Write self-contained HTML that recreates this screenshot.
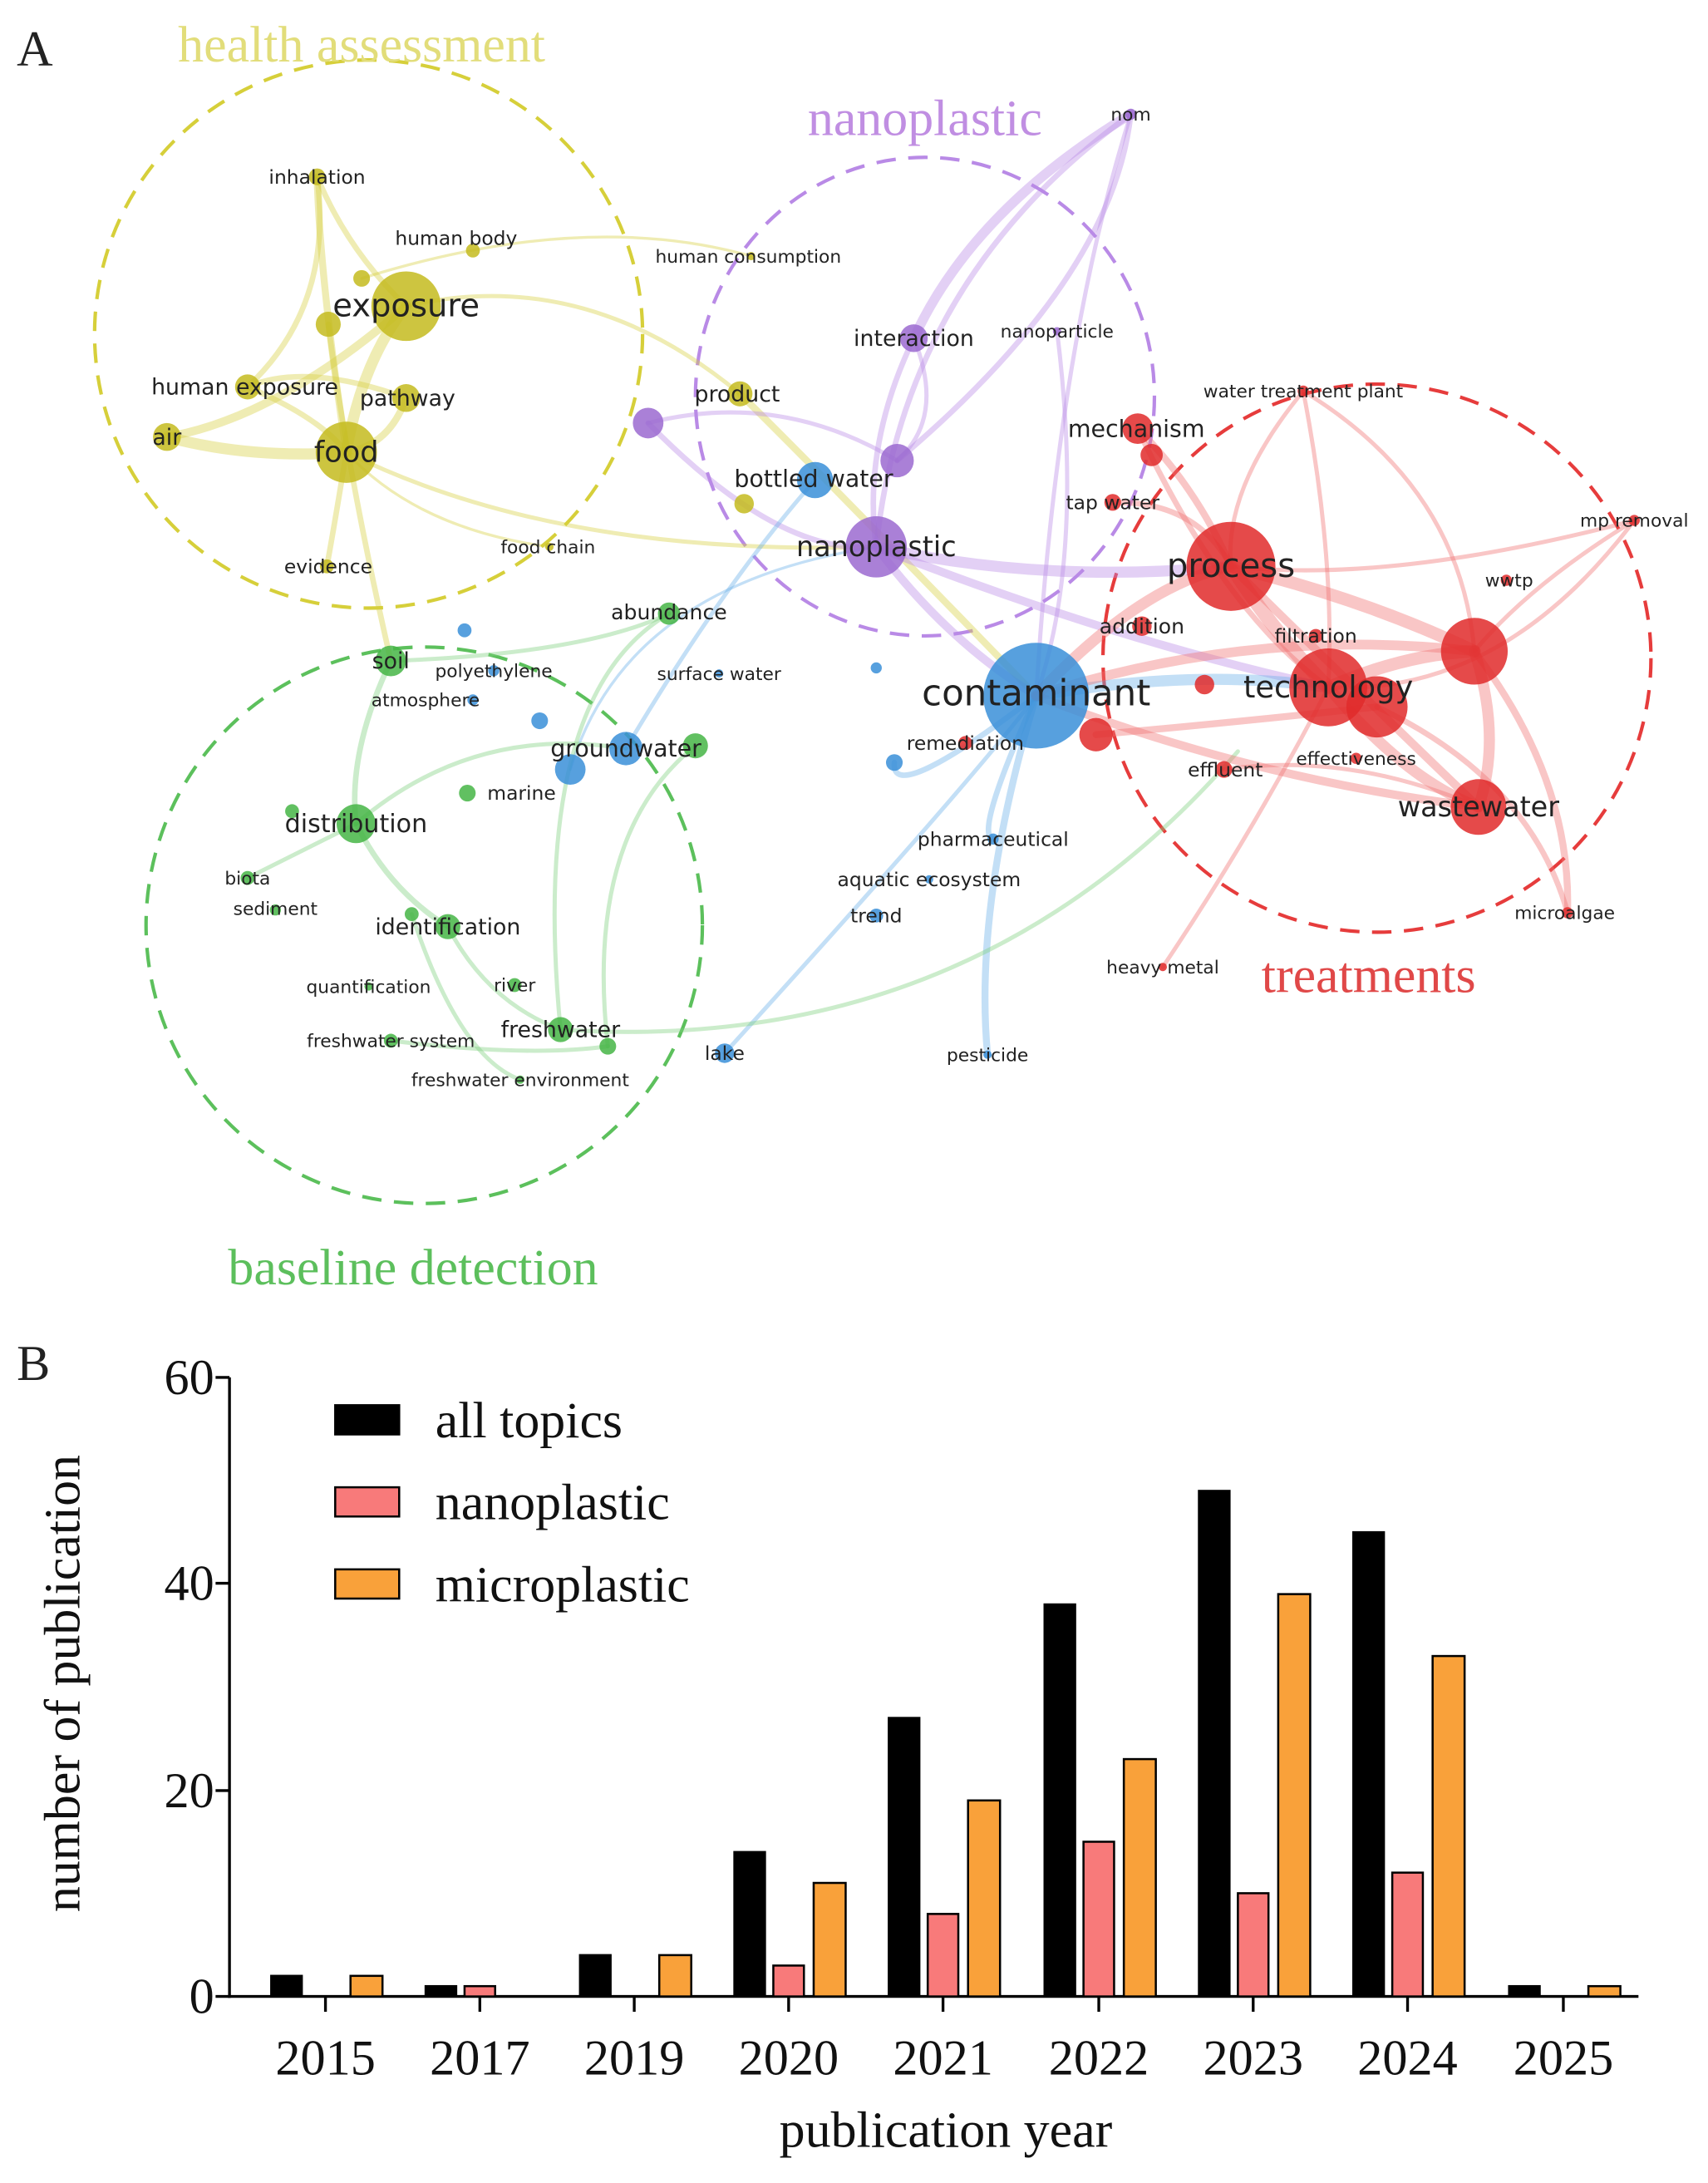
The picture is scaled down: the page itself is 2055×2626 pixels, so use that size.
<!DOCTYPE html>
<html><head><meta charset="utf-8"><style>
html,body{margin:0;padding:0;background:#fff}
svg{display:block}
.s{font-family:"DejaVu Sans","Liberation Sans",sans-serif;fill:#222;text-anchor:middle;dominant-baseline:middle}
.t{font-family:"Liberation Serif",serif}
</style></head><body>
<svg width="2055" height="2626" viewBox="0 0 1228 1569" xmlns="http://www.w3.org/2000/svg">
<rect width="1228" height="1569" fill="#fff"/>
<text x="12" y="47" class="t" font-size="36" fill="#222">A</text>
<text x="12" y="992" class="t" font-size="36" fill="#222">B</text>

<g fill="none" stroke-width="2.5" stroke-dasharray="14,9">
<circle cx="265" cy="240" r="197" stroke="#d6cf3a"/>
<ellipse cx="665" cy="285" rx="165" ry="172" stroke="#b98ae6"/>
<circle cx="990" cy="473" r="197" stroke="#e63c3c"/>
<circle cx="305" cy="665" r="200" stroke="#5cc05c"/>
</g>

<g fill="none" stroke-linecap="round" stroke-opacity="0.4">
<g stroke="#d8d040">
<path d="M228 127 Q230 200 249 325" stroke-width="5"/>
<path d="M228 127 Q240 220 178 278" stroke-width="4"/>
<path d="M228 127 Q250 180 292 220" stroke-width="4"/>
<path d="M120 314 Q200 300 292 220" stroke-width="6"/>
<path d="M120 314 Q180 330 249 325" stroke-width="8"/>
<path d="M178 278 Q220 260 292 286" stroke-width="4"/>
<path d="M249 325 Q260 260 292 220" stroke-width="8"/>
<path d="M249 325 Q280 320 292 286" stroke-width="5"/>
<path d="M249 325 Q240 380 235 407" stroke-width="4"/>
<path d="M292 220 Q420 190 532 283" stroke-width="3"/>
<path d="M260 200 Q420 150 540 184" stroke-width="2"/>
<path d="M249 325 Q400 400 630 393" stroke-width="3"/>
<path d="M532 283 Q590 340 745 500" stroke-width="5"/>
<path d="M249 325 Q300 380 395 393" stroke-width="2"/>
<path d="M236 233 Q250 340 281 475" stroke-width="4"/>
<path d="M178 278 Q230 300 249 325" stroke-width="4"/>
</g>
<g stroke="#b98ae6">
<path d="M813 82 Q700 150 657 243" stroke-width="7"/>
<path d="M813 82 Q650 200 630 393" stroke-width="4"/>
<path d="M813 82 Q760 250 745 500" stroke-width="3"/>
<path d="M813 82 Q800 200 645 331" stroke-width="4"/>
<path d="M657 243 Q620 320 630 393" stroke-width="4"/>
<path d="M657 243 Q680 300 645 331" stroke-width="3"/>
<path d="M466 304 Q560 400 630 393" stroke-width="4"/>
<path d="M466 304 Q560 280 645 331" stroke-width="3"/>
<path d="M630 393 Q750 420 885 407" stroke-width="8"/>
<path d="M630 393 Q800 460 955 494" stroke-width="6"/>
<path d="M630 393 Q680 460 745 500" stroke-width="6"/>
<path d="M760 238 Q780 400 745 500" stroke-width="3"/>
</g>
<g stroke="#6aaee8">
<path d="M745 500 Q700 560 521 757" stroke-width="3"/>
<path d="M745 500 Q700 650 710 758" stroke-width="5"/>
<path d="M745 500 Q700 600 714 603" stroke-width="4"/>
<path d="M745 500 Q640 580 643 548" stroke-width="4"/>
<path d="M586 345 Q520 420 450 538" stroke-width="3"/>
<path d="M630 393 Q450 420 410 553" stroke-width="2"/>
<path d="M745 500 Q860 480 955 494" stroke-width="8"/>
</g>
<g stroke="#7ccf7c">
<path d="M281 475 Q250 540 256 592" stroke-width="4"/>
<path d="M256 592 Q280 640 322 666" stroke-width="4"/>
<path d="M256 592 Q200 620 178 631" stroke-width="3"/>
<path d="M322 666 Q350 720 403 740" stroke-width="3"/>
<path d="M296 657 Q330 760 374 776" stroke-width="3"/>
<path d="M481 441 Q380 500 403 740" stroke-width="3"/>
<path d="M403 740 Q700 760 890 540" stroke-width="3"/>
<path d="M437 752 Q420 600 500 536" stroke-width="3"/>
<path d="M281 748 Q380 760 437 752" stroke-width="3"/>
<path d="M256 592 Q340 520 450 538" stroke-width="3"/>
<path d="M281 475 Q420 470 481 441" stroke-width="3"/>
</g>
<g stroke="#f07070">
<path d="M885 407 Q980 430 1060 468" stroke-width="9"/>
<path d="M885 407 Q920 460 955 494" stroke-width="10"/>
<path d="M955 494 Q1010 470 1060 468" stroke-width="9"/>
<path d="M1060 468 Q1080 530 1063 580" stroke-width="8"/>
<path d="M955 494 Q1010 560 1063 580" stroke-width="8"/>
<path d="M885 407 Q1000 520 1063 580" stroke-width="6"/>
<path d="M1060 468 Q1130 560 1127 656" stroke-width="5"/>
<path d="M990 508 Q1100 560 1127 656" stroke-width="4"/>
<path d="M937 281 Q880 350 885 407" stroke-width="3"/>
<path d="M937 281 Q1050 350 1060 468" stroke-width="3"/>
<path d="M937 281 Q960 400 955 494" stroke-width="3"/>
<path d="M1175 374 Q1100 420 1060 468" stroke-width="3"/>
<path d="M1175 374 Q1000 420 885 407" stroke-width="3"/>
<path d="M1175 374 Q1080 500 955 494" stroke-width="3"/>
<path d="M818 308 Q860 350 885 407" stroke-width="5"/>
<path d="M818 308 Q880 440 955 494" stroke-width="4"/>
<path d="M800 361 Q860 360 885 407" stroke-width="4"/>
<path d="M745 500 Q820 420 885 407" stroke-width="8"/>
<path d="M745 500 Q900 560 1063 580" stroke-width="6"/>
<path d="M745 500 Q900 450 1060 468" stroke-width="7"/>
<path d="M836 695 Q900 600 955 494" stroke-width="3"/>
<path d="M880 553 Q970 540 1063 580" stroke-width="3"/>
<path d="M788 528 Q880 520 990 508" stroke-width="5"/>
</g>
</g>

<g fill-opacity="0.85">
<g fill="#c4bb1e">
<circle cx="292" cy="220" r="25"/><circle cx="249" cy="325" r="22"/><circle cx="120" cy="314" r="10"/>
<circle cx="178" cy="278" r="9"/><circle cx="292" cy="286" r="10"/><circle cx="228" cy="127" r="6"/>
<circle cx="340" cy="180" r="5"/><circle cx="260" cy="200" r="6"/><circle cx="236" cy="233" r="9"/>
<circle cx="235" cy="407" r="5"/><circle cx="532" cy="283" r="9"/><circle cx="535" cy="362" r="7"/>
<circle cx="395" cy="393" r="3"/><circle cx="540" cy="184" r="3"/>
</g>
<g fill="#9b6ad0">
<circle cx="630" cy="393" r="22"/><circle cx="657" cy="243" r="10"/><circle cx="466" cy="304" r="11"/>
<circle cx="645" cy="331" r="12"/><circle cx="760" cy="238" r="3"/><circle cx="813" cy="82" r="4"/>
</g>
<g fill="#3a8fd8">
<circle cx="745" cy="500" r="38"/><circle cx="586" cy="345" r="13"/><circle cx="450" cy="538" r="12"/>
<circle cx="410" cy="553" r="11"/><circle cx="388" cy="518" r="6"/><circle cx="334" cy="453" r="5"/>
<circle cx="355" cy="482" r="4"/><circle cx="340" cy="503" r="4"/><circle cx="517" cy="484" r="3"/>
<circle cx="630" cy="480" r="4"/><circle cx="643" cy="548" r="6"/><circle cx="714" cy="603" r="4"/>
<circle cx="668" cy="632" r="3"/><circle cx="630" cy="658" r="5"/><circle cx="521" cy="757" r="7"/>
<circle cx="710" cy="758" r="3"/>
</g>
<g fill="#45b545">
<circle cx="281" cy="475" r="11"/><circle cx="256" cy="592" r="14"/><circle cx="336" cy="570" r="6"/>
<circle cx="500" cy="536" r="9"/><circle cx="481" cy="441" r="8"/><circle cx="322" cy="666" r="9"/>
<circle cx="178" cy="631" r="5"/><circle cx="198" cy="654" r="4"/><circle cx="210" cy="583" r="5"/>
<circle cx="296" cy="657" r="5"/><circle cx="265" cy="709" r="3"/><circle cx="370" cy="708" r="5"/>
<circle cx="403" cy="740" r="9"/><circle cx="437" cy="752" r="6"/><circle cx="281" cy="748" r="5"/>
<circle cx="374" cy="776" r="3"/>
</g>
<g fill="#e02a2a">
<circle cx="885" cy="407" r="32"/><circle cx="955" cy="494" r="28"/><circle cx="990" cy="508" r="22"/>
<circle cx="1060" cy="468" r="24"/><circle cx="1063" cy="580" r="20"/><circle cx="818" cy="308" r="11"/>
<circle cx="828" cy="327" r="8"/><circle cx="800" cy="361" r="6"/><circle cx="937" cy="281" r="4"/>
<circle cx="1175" cy="374" r="4"/><circle cx="1083" cy="417" r="4"/><circle cx="821" cy="450" r="7"/>
<circle cx="946" cy="457" r="5"/><circle cx="866" cy="492" r="7"/><circle cx="788" cy="528" r="12"/>
<circle cx="694" cy="534" r="5"/><circle cx="880" cy="553" r="6"/><circle cx="975" cy="545" r="4"/>
<circle cx="1127" cy="656" r="4"/><circle cx="836" cy="695" r="3"/>
</g>
</g>

<g class="s">
<text x="292" y="221" font-size="23">exposure</text>
<text x="249" y="326" font-size="21">food</text>
<text x="120" y="315" font-size="16">air</text>
<text x="176" y="279" font-size="16">human exposure</text>
<text x="293" y="287" font-size="16">pathway</text>
<text x="228" y="128" font-size="14">inhalation</text>
<text x="328" y="172" font-size="14">human body</text>
<text x="236" y="408" font-size="14">evidence</text>
<text x="530" y="284" font-size="16">product</text>
<text x="394" y="394" font-size="13">food chain</text>
<text x="538" y="185" font-size="13">human consumption</text>
<text x="630" y="394" font-size="20">nanoplastic</text>
<text x="657" y="244" font-size="16">interaction</text>
<text x="760" y="239" font-size="13">nanoparticle</text>
<text x="813" y="83" font-size="13">nom</text>
<text x="745" y="500" font-size="26">contaminant</text>
<text x="585" y="345" font-size="17">bottled water</text>
<text x="450" y="539" font-size="17">groundwater</text>
<text x="355" y="483" font-size="13">polyethylene</text>
<text x="306" y="504" font-size="13">atmosphere</text>
<text x="517" y="485" font-size="13">surface water</text>
<text x="714" y="604" font-size="14">pharmaceutical</text>
<text x="668" y="633" font-size="14">aquatic ecosystem</text>
<text x="630" y="659" font-size="14">trend</text>
<text x="521" y="758" font-size="14">lake</text>
<text x="710" y="759" font-size="13">pesticide</text>
<text x="281" y="476" font-size="16">soil</text>
<text x="256" y="593" font-size="18">distribution</text>
<text x="375" y="571" font-size="14">marine</text>
<text x="481" y="441" font-size="15">abundance</text>
<text x="322" y="667" font-size="16">identification</text>
<text x="178" y="632" font-size="13">biota</text>
<text x="198" y="654" font-size="13">sediment</text>
<text x="265" y="710" font-size="13">quantification</text>
<text x="370" y="709" font-size="13">river</text>
<text x="403" y="741" font-size="16">freshwater</text>
<text x="281" y="749" font-size="13">freshwater system</text>
<text x="374" y="777" font-size="13">freshwater environment</text>
<text x="885" y="408" font-size="24">process</text>
<text x="955" y="495" font-size="22">technology</text>
<text x="1063" y="581" font-size="20">wastewater</text>
<text x="817" y="309" font-size="17">mechanism</text>
<text x="800" y="362" font-size="14">tap water</text>
<text x="937" y="282" font-size="13">water treatment plant</text>
<text x="1175" y="375" font-size="13">mp removal</text>
<text x="1085" y="418" font-size="13">wwtp</text>
<text x="821" y="451" font-size="15">addition</text>
<text x="946" y="458" font-size="14">filtration</text>
<text x="694" y="535" font-size="14">remediation</text>
<text x="881" y="554" font-size="14">effluent</text>
<text x="975" y="546" font-size="13">effectiveness</text>
<text x="1125" y="657" font-size="13">microalgae</text>
<text x="836" y="696" font-size="13">heavy metal</text>
</g>

<g class="t" font-size="37" text-anchor="middle">
<text x="260" y="44" fill="#e2dd7a">health assessment</text>
<text x="665" y="97" fill="#c08ee2">nanoplastic</text>
<text x="984" y="713" fill="#e04848">treatments</text>
<text x="297" y="923" fill="#5cbf5c">baseline detection</text>
</g>

<g stroke="#000" stroke-width="2" fill="none">
<line x1="165" y1="990" x2="165" y2="1436"/>
<line x1="164" y1="1435" x2="1178" y2="1435"/>
<line x1="155" y1="990" x2="165" y2="990"/>
<line x1="155" y1="1138" x2="165" y2="1138"/>
<line x1="155" y1="1287" x2="165" y2="1287"/>
<line x1="155" y1="1435" x2="165" y2="1435"/>
<line x1="234" y1="1435" x2="234" y2="1446"/>
<line x1="345" y1="1435" x2="345" y2="1446"/>
<line x1="456" y1="1435" x2="456" y2="1446"/>
<line x1="567" y1="1435" x2="567" y2="1446"/>
<line x1="678" y1="1435" x2="678" y2="1446"/>
<line x1="790" y1="1435" x2="790" y2="1446"/>
<line x1="901" y1="1435" x2="901" y2="1446"/>
<line x1="1012" y1="1435" x2="1012" y2="1446"/>
<line x1="1124" y1="1435" x2="1124" y2="1446"/>
</g>
<g class="t" font-size="36" fill="#111" text-anchor="end">
<text x="154" y="1002">60</text><text x="154" y="1150">40</text><text x="154" y="1299">20</text><text x="154" y="1447">0</text>
</g>
<g class="t" font-size="36" fill="#111" text-anchor="middle">
<text x="234" y="1491">2015</text><text x="345" y="1491">2017</text><text x="456" y="1491">2019</text>
<text x="567" y="1491">2020</text><text x="678" y="1491">2021</text><text x="790" y="1491">2022</text>
<text x="901" y="1491">2023</text><text x="1012" y="1491">2024</text><text x="1124" y="1491">2025</text>
</g>
<g class="t" font-size="37" fill="#111" text-anchor="middle">
<text x="680" y="1543">publication year</text>
<text transform="translate(57,1210) rotate(-90)">number of publication</text>
</g>
<g stroke="#000" stroke-width="1.5">
<g fill="#000">
<rect x="195" y="1420.2" width="22" height="14.8"/>
<rect x="306" y="1427.6" width="22" height="7.4"/>
<rect x="417" y="1405.3" width="22" height="29.7"/>
<rect x="528" y="1331.2" width="22" height="103.8"/>
<rect x="639" y="1234.8" width="22" height="200.2"/>
<rect x="751" y="1153.2" width="22" height="281.8"/>
<rect x="862" y="1071.6" width="22" height="363.4"/>
<rect x="973" y="1101.3" width="22" height="333.7"/>
<rect x="1085" y="1427.6" width="22" height="7.4"/>
</g>
<g fill="#f87a7a">
<rect x="334" y="1427.6" width="22" height="7.4"/>
<rect x="556" y="1412.8" width="22" height="22.2"/>
<rect x="667" y="1375.7" width="22" height="59.3"/>
<rect x="779" y="1323.8" width="22" height="111.2"/>
<rect x="890" y="1360.8" width="22" height="74.2"/>
<rect x="1001" y="1346" width="22" height="89"/>
</g>
<g fill="#f9a13a">
<rect x="252" y="1420.2" width="23" height="14.8"/>
<rect x="474" y="1405.3" width="23" height="29.7"/>
<rect x="585" y="1353.4" width="23" height="81.6"/>
<rect x="696" y="1294.1" width="23" height="140.9"/>
<rect x="808" y="1264.4" width="23" height="170.6"/>
<rect x="919" y="1145.8" width="23" height="289.2"/>
<rect x="1030" y="1190.3" width="23" height="244.7"/>
<rect x="1142" y="1427.6" width="23" height="7.4"/>
</g>
<rect x="241" y="1010" width="46" height="21" fill="#000"/>
<rect x="241" y="1069" width="46" height="21" fill="#f87a7a"/>
<rect x="241" y="1128" width="46" height="21" fill="#f9a13a"/>
</g>
<g class="t" font-size="37" fill="#111">
<text x="313" y="1033">all topics</text>
<text x="313" y="1092">nanoplastic</text>
<text x="313" y="1151">microplastic</text>
</g>
</svg>
</body></html>
